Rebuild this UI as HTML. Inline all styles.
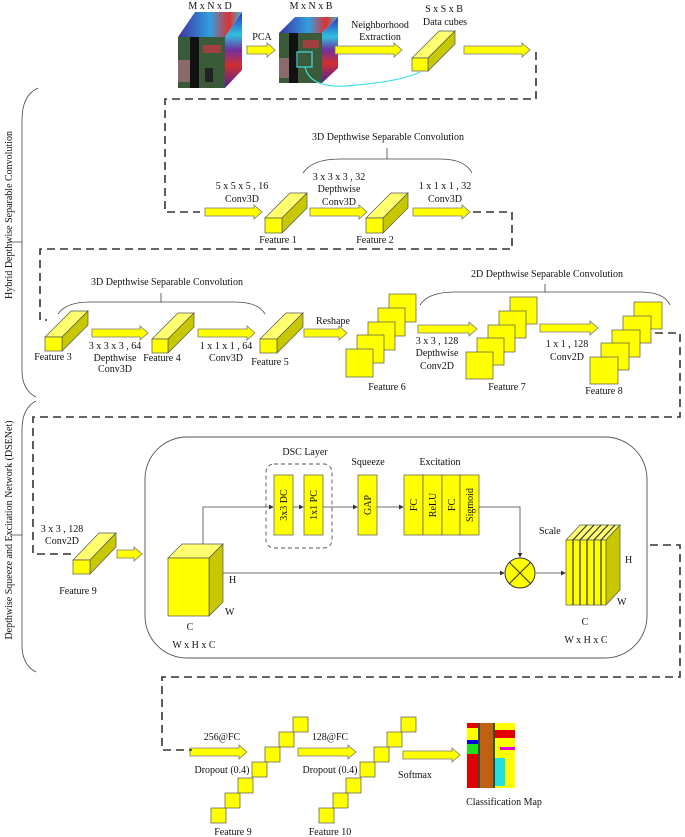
<!DOCTYPE html>
<html><head><meta charset="utf-8"><style>
html,body{margin:0;padding:0;background:#fff}
svg{display:block}
text{font-family:"Liberation Serif",serif;font-size:10px;fill:#111}
.c{text-anchor:middle}
.ar{fill:#ffff00;stroke:#777;stroke-width:0.8}
.f{fill:#ffff00;stroke:#555;stroke-width:0.7}
.t{fill:#ffff70;stroke:#555;stroke-width:0.7}
.s{fill:#c8c800;stroke:#555;stroke-width:0.7}
.d{fill:none;stroke:#333;stroke-width:1.6;stroke-dasharray:8,5}
.ln{fill:none;stroke:#444;stroke-width:0.8}
</style></head><body>
<svg width="685" height="837" viewBox="0 0 685 837" xmlns="http://www.w3.org/2000/svg">
<defs>
<linearGradient id="jet" x1="0" y1="0" x2="0" y2="1">
<stop offset="0" stop-color="#3030c0"/><stop offset=".3" stop-color="#30c0e0"/><stop offset=".5" stop-color="#7030a0"/><stop offset=".7" stop-color="#d03030"/><stop offset="1" stop-color="#5020a0"/></linearGradient>
<linearGradient id="topg" x1="0" y1="0" x2="1" y2="0">
<stop offset="0" stop-color="#4030a0"/><stop offset=".5" stop-color="#30a0e0"/><stop offset=".8" stop-color="#e03030"/><stop offset="1" stop-color="#30c0e0"/></linearGradient>
<marker id="mk" markerWidth="6" markerHeight="6" refX="5" refY="3" orient="auto"><path d="M0,0 L6,3 L0,6 Z" fill="#333"/></marker>
</defs>

<!-- Top hyperspectral cubes -->
<polygon points="178,37 195,12 242,12 225,37" fill="url(#topg)"/>
<polygon points="225,37 242,12 242,70 225,88" fill="url(#jet)"/>
<rect x="178" y="37" width="47" height="51" fill="#3a5a3a"/>
<rect x="190" y="37" width="9" height="51" fill="#111"/>
<rect x="178" y="60" width="12" height="22" fill="#8a6a6a"/>
<rect x="203" y="45" width="18" height="8" fill="#a04040"/>
<rect x="205" y="68" width="8" height="14" fill="#222"/>
<polygon points="279,33 295,17 338,17 322,33" fill="url(#topg)"/>
<polygon points="322,33 338,17 338,68 322,83" fill="url(#jet)"/>
<rect x="279" y="33" width="43" height="50" fill="#3a5a3a"/>
<rect x="289" y="33" width="9" height="50" fill="#111"/>
<rect x="279" y="58" width="10" height="20" fill="#8a6a6a"/>
<rect x="303" y="40" width="16" height="8" fill="#a04040"/>
<rect x="297" y="52" width="15" height="15" fill="none" stroke="#40e0e0" stroke-width="1.2"/>
<path d="M305,67 Q310,88 345,86 Q400,82 420,72" fill="none" stroke="#40e0e0" stroke-width="1.2"/>
<text class="c" x="210" y="9">M x N x D</text>
<text class="c" x="311" y="9">M x N x B</text>
<text class="c" x="262" y="40">PCA</text>
<text class="c" x="380" y="28">Neighborhood</text>
<text class="c" x="380" y="40">Extraction</text>
<text class="c" x="444" y="12">S x S x B</text>
<text class="c" x="445" y="25">Data cubes</text>

<!-- data cube bar -->
<polygon class="t" points="412,58 428,58 455,31 439,31"/>
<polygon class="s" points="428,58 455,31 455,44 428,71"/>
<rect class="f" x="412" y="58" width="16" height="13"/>

<!-- Arrows -->
<g class="ar">
<path d="M247,46 L267,46 L267,43 L275,50 L267,57 L267,54 L247,54 Z"/>
<path d="M335,46 L394,46 L394,43 L402,50 L394,57 L394,54 L335,54 Z"/>
<path d="M464,46 L522,46 L522,43 L530,50 L522,57 L522,54 L464,54 Z"/>
<path d="M205,208 L254,208 L254,205 L262,212 L254,219 L254,216 L205,216 Z"/>
<path d="M310,208 L359,208 L359,205 L367,212 L359,219 L359,216 L310,216 Z"/>
<path d="M413,208 L462,208 L462,205 L470,212 L462,219 L462,216 L413,216 Z"/>
<path d="M92,329 L140,329 L140,326 L148,333 L140,340 L140,337 L92,337 Z"/>
<path d="M198,329 L247,329 L247,326 L255,333 L247,340 L247,337 L198,337 Z"/>
<path d="M304,329 L339,329 L339,326 L347,333 L339,340 L339,337 L304,337 Z"/>
<path d="M418,325 L469,325 L469,322 L477,329 L469,336 L469,333 L418,333 Z"/>
<path d="M540,324 L590,324 L590,321 L598,328 L590,335 L590,332 L540,332 Z"/>
<path d="M117,550 L134,550 L134,547 L142,554 L134,561 L134,558 L117,558 Z"/>
<path d="M190,748 L239,748 L239,745 L247,752 L239,759 L239,756 L190,756 Z"/>
<path d="M298,748 L348,748 L348,745 L356,752 L348,759 L348,756 L298,756 Z"/>
<path d="M403,751 L452,751 L452,748 L460,755 L452,762 L452,759 L403,759 Z"/>
</g>

<!-- Dashed connectors -->
<path class="d" d="M536,52 L536,99 L165,99 L165,212 L200,212"/>
<path class="d" d="M473,212 L512,212 L512,249 L40,249 L40,320 L47,320"/>
<path class="d" d="M655,333 L680,333 L680,417 L33,417 L33,554 L72,554"/>
<path class="d" d="M650,545 L680,545 L680,677 L162,677 L162,750 L192,750"/>

<!-- Row 2 -->
<text class="c" x="388" y="140">3D Depthwise Separable Convolution</text>
<path class="ln" d="M387,148 L387,159 M303,173 Q312,159 340,159 L440,159 Q465,159 472,173"/>
<text class="c" x="242" y="189">5 x 5 x 5 , 16</text>
<text class="c" x="242" y="202">Conv3D</text>
<text class="c" x="339" y="180">3 x 3 x 3 , 32</text>
<text class="c" x="339" y="192">Depthwise</text>
<text class="c" x="339" y="205">Conv3D</text>
<text class="c" x="445" y="189">1 x 1 x 1 , 32</text>
<text class="c" x="445" y="202">Conv3D</text>
<polygon class="t" points="265,218 282,218 307,193 290,193"/>
<polygon class="s" points="282,218 307,193 307,208 282,233"/>
<rect class="f" x="265" y="218" width="17" height="15"/>
<polygon class="t" points="366,218 383,218 408,193 391,193"/>
<polygon class="s" points="383,218 408,193 408,208 383,233"/>
<rect class="f" x="366" y="218" width="17" height="15"/>
<text class="c" x="278" y="243">Feature 1</text>
<text class="c" x="375" y="243">Feature 2</text>

<!-- Row 3 -->
<text class="c" x="167" y="285">3D Depthwise Separable Convolution</text>
<path class="ln" d="M161,293 L161,302 M58,314 Q66,302 90,302 L235,302 Q258,302 265,314"/>
<polygon class="t" points="45,337 62,337 88,311 71,311"/>
<polygon class="s" points="62,337 88,311 88,325 62,351"/>
<rect class="f" x="45" y="337" width="17" height="14"/>
<polygon class="t" points="152,339 168,339 194,313 178,313"/>
<polygon class="s" points="168,339 194,313 194,327 168,353"/>
<rect class="f" x="152" y="339" width="16" height="14"/>
<polygon class="t" points="260,339 277,339 303,313 286,313"/>
<polygon class="s" points="277,339 303,313 303,327 277,353"/>
<rect class="f" x="260" y="339" width="17" height="14"/>
<text class="c" x="53" y="360">Feature 3</text>
<text class="c" x="115" y="349">3 x 3 x 3 , 64</text>
<text class="c" x="115" y="361">Depthwise</text>
<text class="c" x="115" y="372">Conv3D</text>
<text class="c" x="162" y="361">Feature 4</text>
<text class="c" x="226" y="349">1 x 1 x 1 , 64</text>
<text class="c" x="226" y="361">Conv3D</text>
<text class="c" x="270" y="365">Feature 5</text>
<text class="c" x="333" y="324">Reshape</text>

<g class="f">
<rect x="389" y="294" width="27" height="28"/><rect x="378" y="308" width="27" height="28"/><rect x="368" y="322" width="27" height="28"/><rect x="357" y="335" width="27" height="28"/><rect x="346" y="349" width="27" height="28"/>
<rect x="510" y="297" width="27" height="27"/><rect x="499" y="311" width="27" height="27"/><rect x="488" y="325" width="27" height="27"/><rect x="477" y="338" width="27" height="27"/><rect x="466" y="352" width="27" height="27"/>
<rect x="634" y="302" width="28" height="27"/><rect x="623" y="316" width="28" height="27"/><rect x="612" y="330" width="28" height="27"/><rect x="601" y="343" width="28" height="27"/><rect x="590" y="357" width="28" height="27"/>
</g>
<text class="c" x="387" y="390">Feature 6</text>
<text class="c" x="507" y="390">Feature 7</text>
<text class="c" x="604" y="394">Feature 8</text>
<text class="c" x="547" y="277">2D Depthwise Separable Convolution</text>
<path class="ln" d="M545,284 L545,292 M420,305 Q428,292 455,292 L640,292 Q664,292 670,305"/>
<text class="c" x="437" y="344">3 x 3 , 128</text>
<text class="c" x="437" y="356">Depthwise</text>
<text class="c" x="437" y="369">Conv2D</text>
<text class="c" x="567" y="347">1 x 1 , 128</text>
<text class="c" x="567" y="360">Conv2D</text>

<!-- Left brackets -->
<path class="ln" d="M38,88 Q22,95 22,120 L22,370 Q22,390 36,397 M10,242 L22,242"/>
<path class="ln" d="M36,401 Q22,408 22,430 L22,645 Q22,665 36,672 M10,535 L22,535"/>
<text class="c" transform="translate(12,215) rotate(-90)">Hybrid Depthwise Separable Convolution</text>
<text class="c" transform="translate(12,530) rotate(-90)">Depthwise Squeeze and Excitation Network (DSENet)</text>

<!-- Feature 9 bar -->
<text class="c" x="62" y="532">3 x 3 , 128</text>
<text class="c" x="62" y="544">Conv2D</text>
<polygon class="t" points="73,560 90,560 116,533 99,533"/>
<polygon class="s" points="90,560 116,533 116,547 90,574"/>
<rect class="f" x="73" y="560" width="17" height="14"/>
<text class="c" x="78" y="594">Feature 9</text>

<!-- SE block -->
<rect x="145" y="437" width="502" height="221" rx="42" fill="none" stroke="#555" stroke-width="0.9"/>
<rect x="266" y="464" width="66" height="84" rx="8" fill="none" stroke="#555" stroke-width="0.9" stroke-dasharray="4,3"/>
<text class="c" x="305" y="455">DSC Layer</text>
<text class="c" x="368" y="465">Squeeze</text>
<text class="c" x="440" y="465">Excitation</text>
<g class="f">
<rect x="274" y="475" width="19" height="60"/><rect x="304" y="475" width="19" height="60"/><rect x="358" y="475" width="19" height="60"/>
<rect x="404" y="475" width="19" height="60"/><rect x="423" y="475" width="19" height="60"/><rect x="442" y="475" width="18" height="60"/><rect x="460" y="475" width="19" height="60"/>
</g>
<text class="c" transform="translate(287,505) rotate(-90)">3x3 DC</text>
<text class="c" transform="translate(317,505) rotate(-90)">1x1 PC</text>
<text class="c" transform="translate(371,505) rotate(-90)">GAP</text>
<text class="c" transform="translate(417,505) rotate(-90)">FC</text>
<text class="c" transform="translate(436,505) rotate(-90)">ReLU</text>
<text class="c" transform="translate(455,505) rotate(-90)">FC</text>
<text class="c" transform="translate(473,505) rotate(-90)">Sigmoid</text>
<g class="ln" marker-end="url(#mk)">
<path d="M203,544 L203,507 L273,507"/>
<path d="M293,507 L303,507"/>
<path d="M323,507 L357,507"/>
<path d="M377,507 L403,507"/>
<path d="M479,507 L520,507 L520,557"/>
<path d="M223,573 L504,573"/>
<path d="M536,573 L565,573"/>
</g>
<text x="539" y="534">Scale</text>
<circle cx="520" cy="573" r="15" fill="#ffff00" stroke="#333" stroke-width="1"/>
<path d="M509,562 L531,584 M531,562 L509,584" stroke="#333" stroke-width="1"/>
<!-- C cube -->
<polygon class="t" points="168,558 209,558 223,544 182,544"/>
<polygon class="s" points="209,558 223,544 223,602 209,616"/>
<rect class="f" x="168" y="558" width="41" height="58"/>
<text x="229" y="583">H</text>
<text x="225" y="615">W</text>
<text class="c" x="190" y="630">C</text>
<text class="c" x="194" y="648">W x H x C</text>
<!-- output block -->
<polygon class="t" points="566,540 606,540 620,525 580,525"/>
<polygon class="s" points="606,540 620,525 620,590 606,605"/>
<rect class="f" x="566" y="540" width="40" height="65"/>
<path d="M573,540 L573,605 M580,540 L580,605 M587,540 L587,605 M594,540 L594,605 M601,540 L601,605 M573,540 L587,525 M580,540 L594,525 M587,540 L601,525 M594,540 L608,525 M601,540 L615,525" stroke="#333" stroke-width="1.2"/>
<text x="625" y="563">H</text>
<text x="617" y="605">W</text>
<text class="c" x="585" y="625">C</text>
<text class="c" x="586" y="643">W x H x C</text>

<!-- Bottom row -->
<text class="c" x="222" y="740">256@FC</text>
<text class="c" x="222" y="773">Dropout (0.4)</text>
<text class="c" x="330" y="740">128@FC</text>
<text class="c" x="330" y="773">Dropout (0.4)</text>
<text class="c" x="415" y="778">Softmax</text>
<g class="f">
<rect x="211" y="808" width="15" height="15"/><rect x="225" y="793" width="15" height="15"/><rect x="238" y="778" width="15" height="15"/><rect x="252" y="762" width="15" height="15"/><rect x="265" y="747" width="15" height="15"/><rect x="279" y="732" width="15" height="15"/><rect x="293" y="717" width="15" height="15"/>
<rect x="319" y="808" width="15" height="15"/><rect x="333" y="793" width="15" height="15"/><rect x="346" y="778" width="15" height="15"/><rect x="360" y="762" width="15" height="15"/><rect x="374" y="747" width="15" height="15"/><rect x="387" y="732" width="15" height="15"/><rect x="401" y="717" width="15" height="15"/>
</g>
<text class="c" x="233" y="835">Feature 9</text>
<text class="c" x="330" y="835">Feature 10</text>
<!-- classification map -->
<rect x="467" y="723" width="48" height="65" fill="#ffff00"/>
<rect x="467" y="723" width="12" height="65" fill="#e00000"/>
<rect x="467" y="728" width="12" height="12" fill="#ffff00"/>
<rect x="467" y="740" width="12" height="4" fill="#0000e0"/>
<rect x="467" y="744" width="12" height="10" fill="#20e020"/>
<rect x="480" y="723" width="13" height="65" fill="#c06010"/>
<rect x="478" y="723" width="2" height="65" fill="#305030"/>
<rect x="493" y="723" width="2" height="65" fill="#305030"/>
<rect x="495" y="730" width="20" height="8" fill="#e00000"/>
<rect x="500" y="747" width="15" height="3" fill="#e000e0"/>
<rect x="495" y="758" width="10" height="28" fill="#20e0e0"/>
<text class="c" x="504" y="805">Classification Map</text>
</svg>
</body></html>
